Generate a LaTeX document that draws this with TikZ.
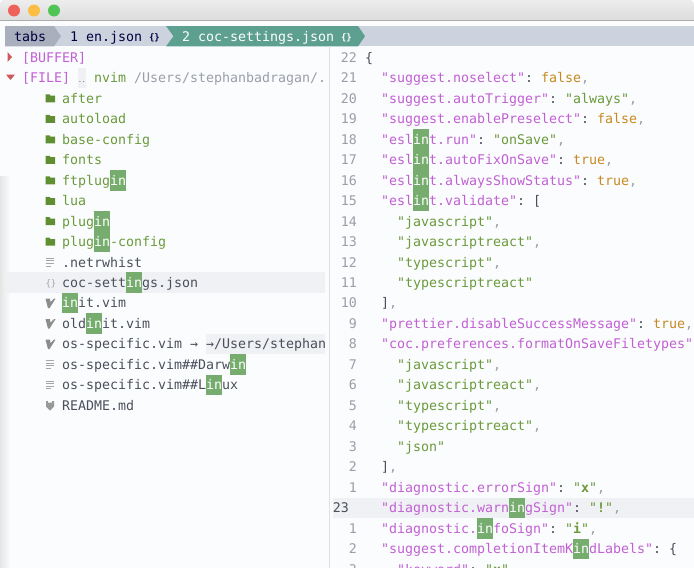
\documentclass[tikz,border=0pt]{standalone}
\usepackage{fontspec}
\setmonofont{DejaVu Sans Mono}
\definecolor{pagebg}{HTML}{FBFCFE}
\definecolor{rowbg}{HTML}{EFF1F4}
\definecolor{barbg}{HTML}{CCD2DE}
\definecolor{tabsbg}{HTML}{A9AFBD}
\definecolor{tealbg}{HTML}{5DA08F}
\definecolor{hitbg}{HTML}{76AD6E}
\definecolor{ink}{HTML}{4A4F5A}
\definecolor{dim}{HTML}{9A9EA8}
\definecolor{purple}{HTML}{C160D3}
\definecolor{leaf}{HTML}{6A9A3A}
\definecolor{folderc}{HTML}{5F8F30}
\definecolor{amber}{HTML}{C68A1E}
\definecolor{redtri}{HTML}{D0575A}
\newcommand{\hit}[1]{{\setlength{\fboxsep}{0pt}\colorbox{hitbg}{\vrule height 15.05pt depth 5.45pt width 0pt\textcolor{white}{#1}}}}
\newcommand{\jkey}[1]{\textcolor{purple}{#1}}
\newcommand{\jstr}[1]{\textcolor{leaf}{#1}}
\newcommand{\jbool}[1]{\textcolor{amber}{#1}}
\newcommand{\jp}[1]{\textcolor{dim}{#1}}
\newcommand{\rowy}[1]{57.4+20.48*#1}
\tikzset{
  txt/.style={anchor=base west,inner sep=0pt,outer sep=0pt,font=\fontsize{13.29}{16}\ttfamily,text=ink},
  treedir/.style={txt,text=leaf},
  num/.style={anchor=base east,inner sep=0pt,font=\fontsize{13.29}{16}\ttfamily,text=dim},
  fileline/.style={draw=black!35,line width=0.9pt}
}
\begin{document}
\begin{tikzpicture}[x=1pt,y=-1pt]
  \useasboundingbox (0,0) rectangle (694,568);
  \clip (0,0) rectangle (694,568);
  % window
  \fill[white] (0,0) rectangle (694,568);
  \shade[top color=black!7,bottom color=black!17,rounded corners=4pt] (0,0) rectangle (694,30);
  \fill[black!32] (0,20) rectangle (694,21);
  \fill[pagebg] (0,21) rectangle (694,568);
  \shade[left color=black!10,right color=pagebg] (0,176) rectangle (10,568);
  \fill[color={rgb,255:red,240;green,96;blue,90}] (14,10.5) circle (6);
  \fill[color={rgb,255:red,252;green,189;blue,69}] (34,10.5) circle (6);
  \fill[color={rgb,255:red,80;green,196;blue,84}] (54,10.5) circle (6);
  % tab line
  \fill[barbg] (5,26) rectangle (694,46.3);
  \fill[tabsbg] (5,26) -- (54,26) -- (61,36.2) -- (54,46.3) -- (5,46.3) -- cycle;
  \fill[tealbg] (166,26) -- (358,26) -- (365,36.2) -- (358,46.3) -- (166,46.3) -- (173.5,36.2) -- cycle;
  \node[txt,text=black!75!blue] (tabname) at (14,41) {tabs};
  \node[txt,text=black!75!blue] (tabone) at (70,41) {1 en.json};
  \node[txt,text=black!75!blue,font=\fontsize{9}{10}\ttfamily\bfseries] (tabonebr) at (149,40.5) {\{\}};
  \node[txt,text=white] (tabtwo) at (182,41) {2 coc-settings.json};
  \node[txt,text=white,font=\fontsize{9}{10}\ttfamily\bfseries] (tabtwobr) at (341,40.5) {\{\}};
  % current lines
  \fill[rowbg] (6,{\rowy{11}-10.25}) rectangle (325,{\rowy{11}+10.25});
  \fill[rowbg] (206,{\rowy{14}-10.25}) rectangle (325,{\rowy{14}+10.25});
  \fill[rowbg] (333,{\rowy{22}-10.25}) rectangle (694,{\rowy{22}+10.25});
  \fill[rowbg] (78,67.5) rectangle (85.5,87.5);
  \draw[black!12] (329.5,46) -- (329.5,568);
  % tree markers
  \fill[redtri] (7.5,52) -- (12,57) -- (7.5,62) -- cycle;
  \fill[redtri] (6,74.5) -- (15,74.5) -- (10.5,80) -- cycle;
  % tree icons
  \foreach \r in {2,...,9}
    \fill[folderc] (45.5,{\rowy{\r}-4}) -- (45.5,{\rowy{\r}+4}) -- (55,{\rowy{\r}+4}) -- (55,{\rowy{\r}-2.7}) -- (50.5,{\rowy{\r}-2.7}) -- (49.5,{\rowy{\r}-4}) -- cycle;
  \foreach \r in {10,15,16}{
    \draw[fileline] (46,{\rowy{\r}-4}) -- (54,{\rowy{\r}-4});
    \draw[fileline] (46,{\rowy{\r}-1.4}) -- (54,{\rowy{\r}-1.4});
    \draw[fileline] (46,{\rowy{\r}+1.2}) -- (54,{\rowy{\r}+1.2});
    \draw[fileline] (46,{\rowy{\r}+3.8}) -- (51,{\rowy{\r}+3.8});
  }
  \foreach \r in {12,13,14}
    \fill[black!45] (45.5,{\rowy{\r}-4.5}) -- (50,{\rowy{\r}-4.5}) -- (50.5,{\rowy{\r}-1}) -- (54,{\rowy{\r}-4.5}) -- (55.5,{\rowy{\r}-4.5}) -- (49.5,{\rowy{\r}+5}) -- (48,{\rowy{\r}+5}) -- cycle;
  \fill[black!40] (46,{\rowy{17}-4.5}) -- (47.8,{\rowy{17}-4.5}) -- (47.8,{\rowy{17}-3}) -- (52.2,{\rowy{17}-3}) -- (52.2,{\rowy{17}-4.5}) -- (54,{\rowy{17}-4.5}) -- (54,{\rowy{17}+1}) -- (50,{\rowy{17}+5}) -- (46,{\rowy{17}+1}) -- cycle;
  \node[txt,text=black!35,font=\fontsize{9}{10}\ttfamily] (cocicon) at (45.5,{\rowy{11}+3.5}) {\{\}};
  % tree
  \node[txt,text=purple] (buffer) at (22,{\rowy{0}+4.8}) {[BUFFER]};
  \node[txt,text=purple] (file) at (22,{\rowy{1}+4.8}) {[FILE]};
  \node[txt,font=\fontsize{6.5}{8}\ttfamily] (updir) at (78,{\rowy{1}+4.8}) {..};
  \node[txt,text=leaf] (rootname) at (94,{\rowy{1}+4.8}) {nvim};
  \node[txt,text=dim] (rootpath) at (134,{\rowy{1}+4.8}) {/Users/stephanbadragan/.};
  \node[treedir] (after) at (62,{\rowy{2}+4.8}) {after};
  \node[treedir] (autoload) at (62,{\rowy{3}+4.8}) {autoload};
  \node[treedir] (baseconfig) at (62,{\rowy{4}+4.8}) {base-config};
  \node[treedir] (fonts) at (62,{\rowy{5}+4.8}) {fonts};
  \node[treedir] (ftplugin) at (62,{\rowy{6}+4.8}) {ftplug\hit{in}};
  \node[treedir] (lua) at (62,{\rowy{7}+4.8}) {lua};
  \node[treedir] (plugin) at (62,{\rowy{8}+4.8}) {plug\hit{in}};
  \node[treedir] (pluginconfig) at (62,{\rowy{9}+4.8}) {plug\hit{in}-config};
  \node[txt] (netrwhist) at (62,{\rowy{10}+4.8}) {.netrwhist};
  \node[txt] (cocsettings) at (62,{\rowy{11}+4.8}) {coc-sett\hit{in}gs.json};
  \node[txt] (initvim) at (62,{\rowy{12}+4.8}) {\hit{in}it.vim};
  \node[txt] (oldinit) at (62,{\rowy{13}+4.8}) {old\hit{in}it.vim};
  \node[txt] (osspecific) at (62,{\rowy{14}+4.8}) {os-specific.vim →};
  \node[txt] (oslink) at (206,{\rowy{14}+4.8}) {→/Users/stephan};
  \node[txt] (osdarwin) at (62,{\rowy{15}+4.8}) {os-specific.vim\#\#Darw\hit{in}};
  \node[txt] (oslinux) at (62,{\rowy{16}+4.8}) {os-specific.vim\#\#L\hit{in}ux};
  \node[txt] (readme) at (62,{\rowy{17}+4.8}) {README.md};
  % line numbers
  \foreach \n [count=\k from 0] in {22,21,20,19,18,17,16,15,14,13,12,11,10,9,8,7,6,5,4,3,2,1}
    \node[num] (num\k) at (357,{\rowy{\k}+4.8}) {\n};
  \node[num,text=ink] (numcur) at (349,{\rowy{22}+4.8}) {23};
  \node[num] (numa) at (357,{\rowy{23}+4.8}) {1};
  \node[num] (numb) at (357,{\rowy{24}+4.8}) {2};
  \node[num] (numc) at (357,{\rowy{25}+4.8}) {3};
  % code
  \node[txt] (codea) at (365,{\rowy{0}+4.8}) {\{};
  \node[txt] (codeb) at (381,{\rowy{1}+4.8}) {\jkey{"suggest.noselect"}: \jbool{false}\jp{,}};
  \node[txt] (codec) at (381,{\rowy{2}+4.8}) {\jkey{"suggest.autoTrigger"}: \jstr{"always"}\jp{,}};
  \node[txt] (coded) at (381,{\rowy{3}+4.8}) {\jkey{"suggest.enablePreselect"}: \jbool{false}\jp{,}};
  \node[txt] (codee) at (381,{\rowy{4}+4.8}) {\jkey{"esl\hit{in}t.run"}: \jstr{"onSave"}\jp{,}};
  \node[txt] (codef) at (381,{\rowy{5}+4.8}) {\jkey{"esl\hit{in}t.autoFixOnSave"}: \jbool{true}\jp{,}};
  \node[txt] (codeg) at (381,{\rowy{6}+4.8}) {\jkey{"esl\hit{in}t.alwaysShowStatus"}: \jbool{true}\jp{,}};
  \node[txt] (codeh) at (381,{\rowy{7}+4.8}) {\jkey{"esl\hit{in}t.validate"}: [};
  \node[txt] (codei) at (397,{\rowy{8}+4.8}) {\jstr{"javascript"}\jp{,}};
  \node[txt] (codej) at (397,{\rowy{9}+4.8}) {\jstr{"javascriptreact"}\jp{,}};
  \node[txt] (codek) at (397,{\rowy{10}+4.8}) {\jstr{"typescript"}\jp{,}};
  \node[txt] (codel) at (397,{\rowy{11}+4.8}) {\jstr{"typescriptreact"}};
  \node[txt] (codem) at (381,{\rowy{12}+4.8}) {]\jp{,}};
  \node[txt] (coden) at (381,{\rowy{13}+4.8}) {\jkey{"prettier.disableSuccessMessage"}: \jbool{true}\jp{,}};
  \node[txt] (codeo) at (381,{\rowy{14}+4.8}) {\jkey{"coc.preferences.formatOnSaveFiletypes"}};
  \node[txt] (codep) at (397,{\rowy{15}+4.8}) {\jstr{"javascript"}\jp{,}};
  \node[txt] (codeq) at (397,{\rowy{16}+4.8}) {\jstr{"javascriptreact"}\jp{,}};
  \node[txt] (coder) at (397,{\rowy{17}+4.8}) {\jstr{"typescript"}\jp{,}};
  \node[txt] (codes) at (397,{\rowy{18}+4.8}) {\jstr{"typescriptreact"}\jp{,}};
  \node[txt] (codet) at (397,{\rowy{19}+4.8}) {\jstr{"json"}};
  \node[txt] (codeu) at (381,{\rowy{20}+4.8}) {]\jp{,}};
  \node[txt] (codev) at (381,{\rowy{21}+4.8}) {\jkey{"diagnostic.errorSign"}: \jstr{"\textbf{x}"}\jp{,}};
  \node[txt] (codew) at (381,{\rowy{22}+4.8}) {\jkey{"diagnostic.warn\hit{in}gSign"}: \jstr{"\textbf{!}"}\jp{,}};
  \node[txt] (codex) at (381,{\rowy{23}+4.8}) {\jkey{"diagnostic.\hit{in}foSign"}: \jstr{"\textbf{i}"}\jp{,}};
  \node[txt] (codey) at (381,{\rowy{24}+4.8}) {\jkey{"suggest.completionItemK\hit{in}dLabels"}: \{};
  \node[txt] (codez) at (397,{\rowy{25}+4.8}) {\jkey{"keyword"}: \jstr{"\textbf{x}"}};
\end{tikzpicture}
\end{document}
